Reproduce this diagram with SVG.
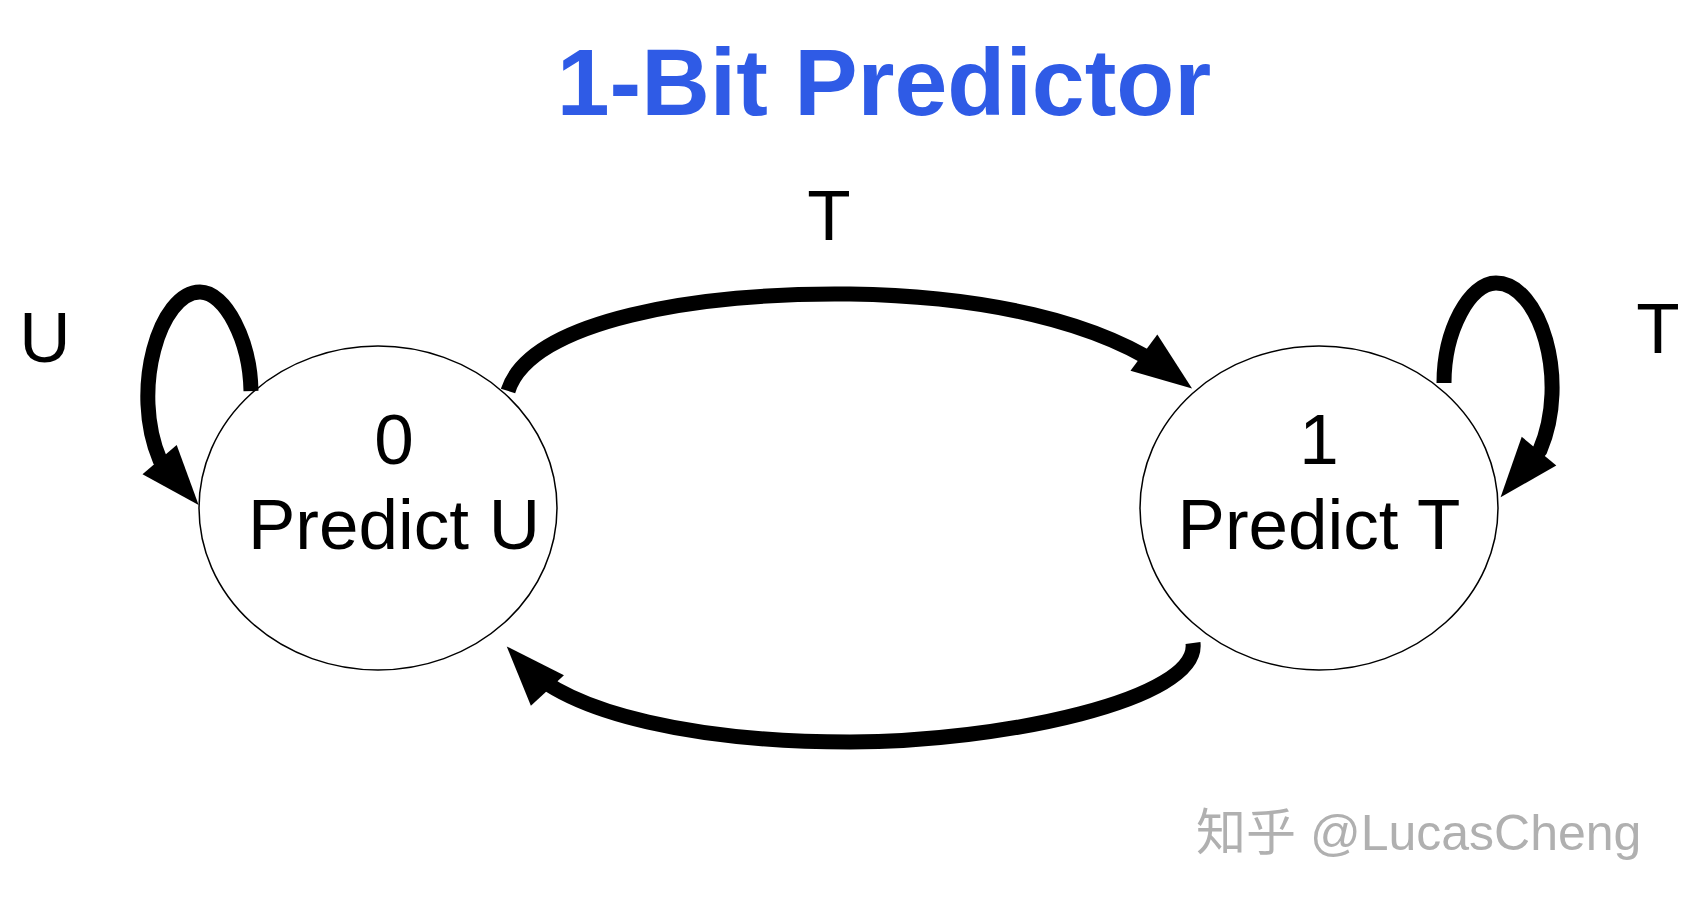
<svg xmlns="http://www.w3.org/2000/svg" width="1684" height="906" viewBox="0 0 1684 906">
<style>
.t{font-family:"Liberation Sans",Arial,sans-serif;fill:#000;text-anchor:middle}
.n{fill:#fff;stroke:#000;stroke-width:1.5}
.c{fill:none;stroke:#000;stroke-width:15}
</style>
<defs><marker id="a" viewBox="0 0 4 3" refX="2.5" refY="1.5" markerWidth="4" markerHeight="3" orient="auto" overflow="visible"><path d="M0,0L4,1.5L0,3z"/></marker></defs>
<rect width="1684" height="906" fill="#fff"/>
<text x="884" y="115" class="t" style="font-size:95px;font-weight:bold;fill:#2f5be6">1-Bit Predictor</text>
<g id="s0"><ellipse class="n" cx="378" cy="508" rx="179" ry="162"/><text class="t" x="394" y="464" font-size="71">0</text><text class="t" x="394" y="549" font-size="71">Predict U</text></g>
<g id="s1"><ellipse class="n" cx="1319" cy="508" rx="179" ry="162"/><text class="t" x="1319" y="464" font-size="71">1</text><text class="t" x="1319" y="549" font-size="71">Predict T</text></g>
<g id="connectors">
<path class="c" marker-end="url(#a)" d="M508,391C530,320 700,292 850,294C980,296 1100,320 1174,375"/>
<path class="c" marker-end="url(#a)" d="M1193,643C1200,700 1000,742 850,742C700,742 570,715 522,663"/>
<path class="c" marker-end="url(#a)" d="M251,391C250,340 225,292 200,292C160,292 130,390 160,460L184,488"/>
<path class="c" marker-end="url(#a)" d="M1444,383C1444,330 1470,283 1496,283C1540,283 1570,380 1540,450L1515,480"/>
</g>
<text class="t" x="829" y="240" font-size="71">T</text>
<text class="t" x="45" y="362" font-size="71">U</text>
<text class="t" x="1658" y="353" font-size="71">T</text>
<text x="1196" y="850" style="font-family:'Liberation Sans','Noto Sans CJK SC',sans-serif;font-size:50px;fill:#b0b0b0">知乎 @LucasCheng</text>
</svg>
